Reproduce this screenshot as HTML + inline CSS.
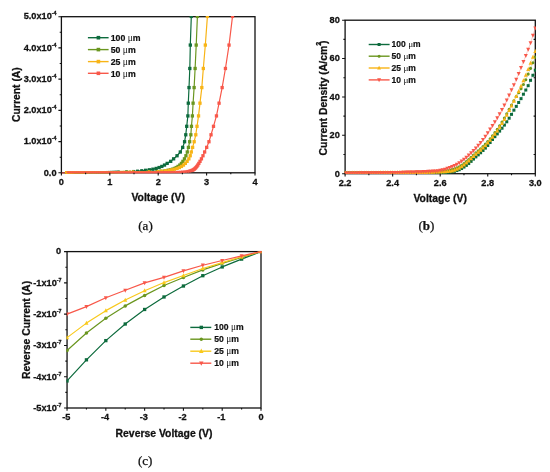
<!DOCTYPE html>
<html lang="en"><head><meta charset="utf-8"><title>Figure</title>
<style>html,body{margin:0;padding:0;background:#fff}svg{display:block}</style></head>
<body>
<svg width="550" height="472" viewBox="0 0 550 472">
<rect width="550" height="472" fill="#fff"/>
<defs><clipPath id="ca"><rect x="60.75" y="16.05" width="194.9" height="157.45"/></clipPath><clipPath id="cb"><rect x="344.45" y="19.55" width="191.5" height="154.5"/></clipPath><clipPath id="cc"><rect x="66.4" y="250.95" width="195.25" height="157.7"/></clipPath></defs>
<rect x="61.4" y="16.7" width="193.6" height="156.1" fill="none" stroke="#111" stroke-width="1.3"/>
<path d="M61.4 173 L66.5 172.8" stroke="#f8584a" stroke-width="1"/>
<g clip-path="url(#ca)"><path d="M191.3 16.4 L190.31 45.07 L189.81 68.48 L189.01 87.58 L188.29 103.18 L187.86 115.91 L186.72 126.31 L185.76 134.79 L184.58 141.72 L182.69 147.37 L180.31 151.99 L177.04 155.75 L173.62 158.83 L170.69 161.34 L167.18 163.39 L164.51 165.06 L161.83 166.43 L159.09 167.54 L156.17 168.45 L152.91 169.2 L149.36 169.8 L145.66 170.3 L141.76 170.7 L137.52 171.03 L133.49 171.3 L126.49 171.52 L118.52 171.7 L116.08 171.85 L113.73 171.97 L111.44 172.07 L109.23 172.15 L107.1 172.21 L105.03 172.25 L103.04 172.25 L101.11 172.25 L99.25 172.25 L97.46 172.25 L95.73 172.25 L94.07 172.25 L92.47 172.25 L90.93 172.25 L89.45 172.25 L88.03 172.25 L86.67 172.25 L85.37 172.25 L84.12 172.25 L82.93 172.25 L81.79 172.25 L80.71 172.25 L79.67 172.25 L78.69 172.25 L77.75 172.25 L76.86 172.25 L76.02 172.25 L75.22 172.25 L74.47 172.25 L73.76 172.25 L73.1 172.25 L72.47 172.25 L71.88 172.25 L71.34 172.25 L70.82 172.25 L70.35 172.25 L69.91 172.25 L69.5 172.25 L69.13 172.25 L68.79 172.25 L68.47 172.25 L68.19 172.25 L67.93 172.25 L67.7 172.25 L67.5 172.25 L67.32 172.25 L67.16 172.25 L67.03 172.25 L66.92 172.25 L66.82 172.25 L66.75 172.25 L66.69 172.25 L66.64 172.25 L66.62 172.25 L66.6 172.25" fill="none" stroke="#0d6b3d" stroke-width="1.2" stroke-linejoin="round"/><rect x="189.65" y="14.75" width="3.3" height="3.3" fill="#0d6b3d"/><rect x="188.66" y="43.42" width="3.3" height="3.3" fill="#0d6b3d"/><rect x="188.16" y="66.83" width="3.3" height="3.3" fill="#0d6b3d"/><rect x="187.36" y="85.93" width="3.3" height="3.3" fill="#0d6b3d"/><rect x="186.64" y="101.53" width="3.3" height="3.3" fill="#0d6b3d"/><rect x="186.21" y="114.26" width="3.3" height="3.3" fill="#0d6b3d"/><rect x="185.07" y="124.66" width="3.3" height="3.3" fill="#0d6b3d"/><rect x="184.11" y="133.14" width="3.3" height="3.3" fill="#0d6b3d"/><rect x="182.93" y="140.07" width="3.3" height="3.3" fill="#0d6b3d"/><rect x="181.04" y="145.72" width="3.3" height="3.3" fill="#0d6b3d"/><rect x="178.66" y="150.34" width="3.3" height="3.3" fill="#0d6b3d"/><rect x="175.39" y="154.1" width="3.3" height="3.3" fill="#0d6b3d"/><rect x="171.97" y="157.18" width="3.3" height="3.3" fill="#0d6b3d"/><rect x="169.04" y="159.69" width="3.3" height="3.3" fill="#0d6b3d"/><rect x="165.53" y="161.74" width="3.3" height="3.3" fill="#0d6b3d"/><rect x="162.86" y="163.41" width="3.3" height="3.3" fill="#0d6b3d"/><rect x="160.18" y="164.78" width="3.3" height="3.3" fill="#0d6b3d"/><rect x="157.44" y="165.89" width="3.3" height="3.3" fill="#0d6b3d"/><rect x="154.52" y="166.8" width="3.3" height="3.3" fill="#0d6b3d"/><rect x="151.26" y="167.55" width="3.3" height="3.3" fill="#0d6b3d"/><rect x="147.71" y="168.15" width="3.3" height="3.3" fill="#0d6b3d"/><rect x="144.01" y="168.65" width="3.3" height="3.3" fill="#0d6b3d"/><rect x="140.19" y="169.13" width="3.15" height="3.15" fill="#0d6b3d"/><rect x="136.06" y="169.58" width="2.91" height="2.91" fill="#0d6b3d"/><rect x="132.13" y="169.94" width="2.72" height="2.72" fill="#0d6b3d"/><rect x="125.21" y="170.24" width="2.56" height="2.56" fill="#0d6b3d"/><rect x="117.27" y="170.45" width="2.5" height="2.5" fill="#0d6b3d"/><rect x="114.83" y="170.6" width="2.5" height="2.5" fill="#0d6b3d"/><rect x="112.48" y="170.72" width="2.5" height="2.5" fill="#0d6b3d"/><rect x="110.19" y="170.82" width="2.5" height="2.5" fill="#0d6b3d"/><rect x="107.98" y="170.9" width="2.5" height="2.5" fill="#0d6b3d"/><rect x="105.85" y="170.96" width="2.5" height="2.5" fill="#0d6b3d"/><rect x="103.78" y="171" width="2.5" height="2.5" fill="#0d6b3d"/><rect x="101.79" y="171" width="2.5" height="2.5" fill="#0d6b3d"/><rect x="99.86" y="171" width="2.5" height="2.5" fill="#0d6b3d"/><rect x="98" y="171" width="2.5" height="2.5" fill="#0d6b3d"/><rect x="96.21" y="171" width="2.5" height="2.5" fill="#0d6b3d"/><rect x="94.48" y="171" width="2.5" height="2.5" fill="#0d6b3d"/><rect x="92.82" y="171" width="2.5" height="2.5" fill="#0d6b3d"/><rect x="91.22" y="171" width="2.5" height="2.5" fill="#0d6b3d"/><rect x="89.68" y="171" width="2.5" height="2.5" fill="#0d6b3d"/><rect x="88.2" y="171" width="2.5" height="2.5" fill="#0d6b3d"/><rect x="86.78" y="171" width="2.5" height="2.5" fill="#0d6b3d"/><rect x="85.42" y="171" width="2.5" height="2.5" fill="#0d6b3d"/><rect x="84.12" y="171" width="2.5" height="2.5" fill="#0d6b3d"/><rect x="82.87" y="171" width="2.5" height="2.5" fill="#0d6b3d"/><rect x="81.68" y="171" width="2.5" height="2.5" fill="#0d6b3d"/><rect x="80.54" y="171" width="2.5" height="2.5" fill="#0d6b3d"/><rect x="79.46" y="171" width="2.5" height="2.5" fill="#0d6b3d"/><rect x="78.42" y="171" width="2.5" height="2.5" fill="#0d6b3d"/><rect x="77.44" y="171" width="2.5" height="2.5" fill="#0d6b3d"/><rect x="76.5" y="171" width="2.5" height="2.5" fill="#0d6b3d"/><rect x="75.61" y="171" width="2.5" height="2.5" fill="#0d6b3d"/><rect x="74.77" y="171" width="2.5" height="2.5" fill="#0d6b3d"/><rect x="73.97" y="171" width="2.5" height="2.5" fill="#0d6b3d"/><rect x="73.22" y="171" width="2.5" height="2.5" fill="#0d6b3d"/><rect x="72.51" y="171" width="2.5" height="2.5" fill="#0d6b3d"/><rect x="71.85" y="171" width="2.5" height="2.5" fill="#0d6b3d"/><rect x="71.22" y="171" width="2.5" height="2.5" fill="#0d6b3d"/><rect x="70.63" y="171" width="2.5" height="2.5" fill="#0d6b3d"/><rect x="70.09" y="171" width="2.5" height="2.5" fill="#0d6b3d"/><rect x="69.57" y="171" width="2.5" height="2.5" fill="#0d6b3d"/><rect x="69.1" y="171" width="2.5" height="2.5" fill="#0d6b3d"/><rect x="68.66" y="171" width="2.5" height="2.5" fill="#0d6b3d"/><rect x="68.25" y="171" width="2.5" height="2.5" fill="#0d6b3d"/><rect x="67.88" y="171" width="2.5" height="2.5" fill="#0d6b3d"/><rect x="67.54" y="171" width="2.5" height="2.5" fill="#0d6b3d"/><rect x="67.22" y="171" width="2.5" height="2.5" fill="#0d6b3d"/><rect x="66.94" y="171" width="2.5" height="2.5" fill="#0d6b3d"/><rect x="66.68" y="171" width="2.5" height="2.5" fill="#0d6b3d"/><rect x="66.45" y="171" width="2.5" height="2.5" fill="#0d6b3d"/><rect x="66.25" y="171" width="2.5" height="2.5" fill="#0d6b3d"/><rect x="66.07" y="171" width="2.5" height="2.5" fill="#0d6b3d"/><rect x="65.91" y="171" width="2.5" height="2.5" fill="#0d6b3d"/><rect x="65.78" y="171" width="2.5" height="2.5" fill="#0d6b3d"/><rect x="65.67" y="171" width="2.5" height="2.5" fill="#0d6b3d"/><rect x="65.57" y="171" width="2.5" height="2.5" fill="#0d6b3d"/><rect x="65.5" y="171" width="2.5" height="2.5" fill="#0d6b3d"/><rect x="65.44" y="171" width="2.5" height="2.5" fill="#0d6b3d"/><rect x="65.39" y="171" width="2.5" height="2.5" fill="#0d6b3d"/><rect x="65.37" y="171" width="2.5" height="2.5" fill="#0d6b3d"/><rect x="65.35" y="171" width="2.5" height="2.5" fill="#0d6b3d"/></g>
<g clip-path="url(#ca)"><path d="M197.4 16.4 L196.21 45.07 L195.11 68.48 L194.11 87.58 L193.09 103.18 L192.38 115.91 L191.45 126.31 L190.84 134.79 L189.68 141.72 L188.44 147.37 L187.29 151.99 L185.94 155.75 L184.46 158.83 L182.91 161.34 L181.4 163.39 L179.82 165.06 L178.05 166.43 L176.23 167.54 L174.39 168.45 L172.43 169.2 L170.4 169.8 L168 170.3 L164.92 170.7 L161.02 171.03 L156.68 171.3 L147.45 171.52 L133.03 171.7 L129.81 171.85 L126.69 171.97 L123.68 172.07 L120.77 172.15 L117.95 172.21 L115.24 172.26 L112.62 172.31 L110.09 172.34 L107.66 172.35 L105.32 172.35 L103.07 172.41 L100.91 172.43 L98.84 172.35 L96.84 172.35 L94.93 172.35 L93.11 172.35 L91.36 172.47 L89.69 172.48 L88.09 172.35 L86.57 172.35 L85.12 172.35 L83.74 172.35 L82.43 172.35 L81.19 172.35 L80.01 172.5 L78.9 172.5 L77.85 172.5 L76.86 172.35 L75.92 172.35 L75.05 172.35 L74.23 172.35 L73.46 172.35 L72.74 172.35 L72.08 172.35 L71.46 172.35 L70.89 172.35 L70.37 172.35 L69.88 172.35 L69.44 172.5 L69.04 172.5 L68.68 172.5 L68.35 172.5 L68.06 172.5 L67.8 172.5 L67.57 172.5 L67.37 172.5 L67.19 172.5 L67.05 172.5 L66.93 172.5 L66.83 172.5 L66.75 172.5 L66.69 172.5 L66.64 172.5 L66.62 172.5 L66.6 172.5" fill="none" stroke="#6a961f" stroke-width="1.2" stroke-linejoin="round"/><rect x="195.75" y="14.75" width="3.3" height="3.3" fill="#6a961f"/><rect x="194.56" y="43.42" width="3.3" height="3.3" fill="#6a961f"/><rect x="193.46" y="66.83" width="3.3" height="3.3" fill="#6a961f"/><rect x="192.46" y="85.93" width="3.3" height="3.3" fill="#6a961f"/><rect x="191.44" y="101.53" width="3.3" height="3.3" fill="#6a961f"/><rect x="190.73" y="114.26" width="3.3" height="3.3" fill="#6a961f"/><rect x="189.8" y="124.66" width="3.3" height="3.3" fill="#6a961f"/><rect x="189.19" y="133.14" width="3.3" height="3.3" fill="#6a961f"/><rect x="188.03" y="140.07" width="3.3" height="3.3" fill="#6a961f"/><rect x="186.79" y="145.72" width="3.3" height="3.3" fill="#6a961f"/><rect x="185.64" y="150.34" width="3.3" height="3.3" fill="#6a961f"/><rect x="184.29" y="154.1" width="3.3" height="3.3" fill="#6a961f"/><rect x="182.81" y="157.18" width="3.3" height="3.3" fill="#6a961f"/><rect x="181.26" y="159.69" width="3.3" height="3.3" fill="#6a961f"/><rect x="179.75" y="161.74" width="3.3" height="3.3" fill="#6a961f"/><rect x="178.17" y="163.41" width="3.3" height="3.3" fill="#6a961f"/><rect x="176.4" y="164.78" width="3.3" height="3.3" fill="#6a961f"/><rect x="174.58" y="165.89" width="3.3" height="3.3" fill="#6a961f"/><rect x="172.74" y="166.8" width="3.3" height="3.3" fill="#6a961f"/><rect x="170.78" y="167.55" width="3.3" height="3.3" fill="#6a961f"/><rect x="168.75" y="168.15" width="3.3" height="3.3" fill="#6a961f"/><rect x="166.35" y="168.65" width="3.3" height="3.3" fill="#6a961f"/><rect x="163.34" y="169.13" width="3.15" height="3.15" fill="#6a961f"/><rect x="159.56" y="169.58" width="2.91" height="2.91" fill="#6a961f"/><rect x="155.32" y="169.94" width="2.72" height="2.72" fill="#6a961f"/><rect x="146.17" y="170.24" width="2.56" height="2.56" fill="#6a961f"/><rect x="131.78" y="170.45" width="2.5" height="2.5" fill="#6a961f"/><rect x="128.56" y="170.6" width="2.5" height="2.5" fill="#6a961f"/><rect x="125.44" y="170.72" width="2.5" height="2.5" fill="#6a961f"/><rect x="122.43" y="170.82" width="2.5" height="2.5" fill="#6a961f"/><rect x="119.52" y="170.9" width="2.5" height="2.5" fill="#6a961f"/><rect x="116.7" y="170.96" width="2.5" height="2.5" fill="#6a961f"/><rect x="113.99" y="171.01" width="2.5" height="2.5" fill="#6a961f"/><rect x="111.37" y="171.06" width="2.5" height="2.5" fill="#6a961f"/><rect x="108.84" y="171.09" width="2.5" height="2.5" fill="#6a961f"/><rect x="106.41" y="171.1" width="2.5" height="2.5" fill="#6a961f"/><rect x="104.07" y="171.1" width="2.5" height="2.5" fill="#6a961f"/><rect x="101.82" y="171.16" width="2.5" height="2.5" fill="#6a961f"/><rect x="99.66" y="171.18" width="2.5" height="2.5" fill="#6a961f"/><rect x="97.59" y="171.1" width="2.5" height="2.5" fill="#6a961f"/><rect x="95.59" y="171.1" width="2.5" height="2.5" fill="#6a961f"/><rect x="93.68" y="171.1" width="2.5" height="2.5" fill="#6a961f"/><rect x="91.86" y="171.1" width="2.5" height="2.5" fill="#6a961f"/><rect x="90.11" y="171.22" width="2.5" height="2.5" fill="#6a961f"/><rect x="88.44" y="171.23" width="2.5" height="2.5" fill="#6a961f"/><rect x="86.84" y="171.1" width="2.5" height="2.5" fill="#6a961f"/><rect x="85.32" y="171.1" width="2.5" height="2.5" fill="#6a961f"/><rect x="83.87" y="171.1" width="2.5" height="2.5" fill="#6a961f"/><rect x="82.49" y="171.1" width="2.5" height="2.5" fill="#6a961f"/><rect x="81.18" y="171.1" width="2.5" height="2.5" fill="#6a961f"/><rect x="79.94" y="171.1" width="2.5" height="2.5" fill="#6a961f"/><rect x="78.76" y="171.25" width="2.5" height="2.5" fill="#6a961f"/><rect x="77.65" y="171.25" width="2.5" height="2.5" fill="#6a961f"/><rect x="76.6" y="171.25" width="2.5" height="2.5" fill="#6a961f"/><rect x="75.61" y="171.1" width="2.5" height="2.5" fill="#6a961f"/><rect x="74.67" y="171.1" width="2.5" height="2.5" fill="#6a961f"/><rect x="73.8" y="171.1" width="2.5" height="2.5" fill="#6a961f"/><rect x="72.98" y="171.1" width="2.5" height="2.5" fill="#6a961f"/><rect x="72.21" y="171.1" width="2.5" height="2.5" fill="#6a961f"/><rect x="71.49" y="171.1" width="2.5" height="2.5" fill="#6a961f"/><rect x="70.83" y="171.1" width="2.5" height="2.5" fill="#6a961f"/><rect x="70.21" y="171.1" width="2.5" height="2.5" fill="#6a961f"/><rect x="69.64" y="171.1" width="2.5" height="2.5" fill="#6a961f"/><rect x="69.12" y="171.1" width="2.5" height="2.5" fill="#6a961f"/><rect x="68.63" y="171.1" width="2.5" height="2.5" fill="#6a961f"/><rect x="68.19" y="171.25" width="2.5" height="2.5" fill="#6a961f"/><rect x="67.79" y="171.25" width="2.5" height="2.5" fill="#6a961f"/><rect x="67.43" y="171.25" width="2.5" height="2.5" fill="#6a961f"/><rect x="67.1" y="171.25" width="2.5" height="2.5" fill="#6a961f"/><rect x="66.81" y="171.25" width="2.5" height="2.5" fill="#6a961f"/><rect x="66.55" y="171.25" width="2.5" height="2.5" fill="#6a961f"/><rect x="66.32" y="171.25" width="2.5" height="2.5" fill="#6a961f"/><rect x="66.12" y="171.25" width="2.5" height="2.5" fill="#6a961f"/><rect x="65.94" y="171.25" width="2.5" height="2.5" fill="#6a961f"/><rect x="65.8" y="171.25" width="2.5" height="2.5" fill="#6a961f"/><rect x="65.68" y="171.25" width="2.5" height="2.5" fill="#6a961f"/><rect x="65.58" y="171.25" width="2.5" height="2.5" fill="#6a961f"/><rect x="65.5" y="171.25" width="2.5" height="2.5" fill="#6a961f"/><rect x="65.44" y="171.25" width="2.5" height="2.5" fill="#6a961f"/><rect x="65.39" y="171.25" width="2.5" height="2.5" fill="#6a961f"/><rect x="65.37" y="171.25" width="2.5" height="2.5" fill="#6a961f"/><rect x="65.35" y="171.25" width="2.5" height="2.5" fill="#6a961f"/></g>
<g clip-path="url(#ca)"><path d="M207.41 16.4 L205.32 45.07 L203.32 68.48 L201.82 87.58 L199.98 103.18 L198.54 115.91 L197 126.31 L195.79 134.79 L194.17 141.72 L192.62 147.37 L191.29 151.99 L190.22 155.75 L188.85 158.83 L187.09 161.34 L185.34 163.39 L183.46 165.06 L181.45 166.43 L179.36 167.54 L177.08 168.45 L174.51 169.2 L171.88 169.8 L169 170.3 L165.55 170.7 L161.55 171.03 L158.01 171.3 L149.28 171.52 L133.02 171.7 L129.77 171.85 L126.62 171.97 L123.58 172.07 L120.65 172.15 L117.81 172.21 L115.08 172.26 L112.45 172.31 L109.91 172.34 L107.46 172.37 L105.11 172.4 L102.85 172.35 L100.68 172.35 L98.6 172.35 L96.6 172.35 L94.69 172.46 L92.86 172.47 L91.1 172.35 L89.43 172.35 L87.84 172.35 L86.32 172.35 L84.87 172.49 L83.49 172.49 L82.19 172.49 L80.95 172.49 L79.78 172.35 L78.67 172.35 L77.63 172.35 L76.65 172.35 L75.72 172.35 L74.85 172.35 L74.04 172.35 L73.29 172.5 L72.58 172.5 L71.92 172.5 L71.32 172.5 L70.76 172.5 L70.24 172.5 L69.77 172.5 L69.34 172.5 L68.94 172.35 L68.59 172.35 L68.27 172.35 L67.99 172.35 L67.74 172.35 L67.52 172.35 L67.32 172.35 L67.16 172.35 L67.02 172.35 L66.9 172.35 L66.81 172.35 L66.74 172.35 L66.68 172.35 L66.64 172.35 L66.61 172.35 L66.6 172.35" fill="none" stroke="#f8b416" stroke-width="1.2" stroke-linejoin="round"/><rect x="205.76" y="14.75" width="3.3" height="3.3" fill="#f8b416"/><rect x="203.67" y="43.42" width="3.3" height="3.3" fill="#f8b416"/><rect x="201.67" y="66.83" width="3.3" height="3.3" fill="#f8b416"/><rect x="200.17" y="85.93" width="3.3" height="3.3" fill="#f8b416"/><rect x="198.33" y="101.53" width="3.3" height="3.3" fill="#f8b416"/><rect x="196.89" y="114.26" width="3.3" height="3.3" fill="#f8b416"/><rect x="195.35" y="124.66" width="3.3" height="3.3" fill="#f8b416"/><rect x="194.14" y="133.14" width="3.3" height="3.3" fill="#f8b416"/><rect x="192.52" y="140.07" width="3.3" height="3.3" fill="#f8b416"/><rect x="190.97" y="145.72" width="3.3" height="3.3" fill="#f8b416"/><rect x="189.64" y="150.34" width="3.3" height="3.3" fill="#f8b416"/><rect x="188.57" y="154.1" width="3.3" height="3.3" fill="#f8b416"/><rect x="187.2" y="157.18" width="3.3" height="3.3" fill="#f8b416"/><rect x="185.44" y="159.69" width="3.3" height="3.3" fill="#f8b416"/><rect x="183.69" y="161.74" width="3.3" height="3.3" fill="#f8b416"/><rect x="181.81" y="163.41" width="3.3" height="3.3" fill="#f8b416"/><rect x="179.8" y="164.78" width="3.3" height="3.3" fill="#f8b416"/><rect x="177.71" y="165.89" width="3.3" height="3.3" fill="#f8b416"/><rect x="175.43" y="166.8" width="3.3" height="3.3" fill="#f8b416"/><rect x="172.86" y="167.55" width="3.3" height="3.3" fill="#f8b416"/><rect x="170.23" y="168.15" width="3.3" height="3.3" fill="#f8b416"/><rect x="167.35" y="168.65" width="3.3" height="3.3" fill="#f8b416"/><rect x="163.98" y="169.13" width="3.15" height="3.15" fill="#f8b416"/><rect x="160.09" y="169.58" width="2.91" height="2.91" fill="#f8b416"/><rect x="156.65" y="169.94" width="2.72" height="2.72" fill="#f8b416"/><rect x="148" y="170.24" width="2.56" height="2.56" fill="#f8b416"/><rect x="131.77" y="170.45" width="2.5" height="2.5" fill="#f8b416"/><rect x="128.52" y="170.6" width="2.5" height="2.5" fill="#f8b416"/><rect x="125.37" y="170.72" width="2.5" height="2.5" fill="#f8b416"/><rect x="122.33" y="170.82" width="2.5" height="2.5" fill="#f8b416"/><rect x="119.4" y="170.9" width="2.5" height="2.5" fill="#f8b416"/><rect x="116.56" y="170.96" width="2.5" height="2.5" fill="#f8b416"/><rect x="113.83" y="171.01" width="2.5" height="2.5" fill="#f8b416"/><rect x="111.2" y="171.06" width="2.5" height="2.5" fill="#f8b416"/><rect x="108.66" y="171.09" width="2.5" height="2.5" fill="#f8b416"/><rect x="106.21" y="171.12" width="2.5" height="2.5" fill="#f8b416"/><rect x="103.86" y="171.15" width="2.5" height="2.5" fill="#f8b416"/><rect x="101.6" y="171.1" width="2.5" height="2.5" fill="#f8b416"/><rect x="99.43" y="171.1" width="2.5" height="2.5" fill="#f8b416"/><rect x="97.35" y="171.1" width="2.5" height="2.5" fill="#f8b416"/><rect x="95.35" y="171.1" width="2.5" height="2.5" fill="#f8b416"/><rect x="93.44" y="171.21" width="2.5" height="2.5" fill="#f8b416"/><rect x="91.61" y="171.22" width="2.5" height="2.5" fill="#f8b416"/><rect x="89.85" y="171.1" width="2.5" height="2.5" fill="#f8b416"/><rect x="88.18" y="171.1" width="2.5" height="2.5" fill="#f8b416"/><rect x="86.59" y="171.1" width="2.5" height="2.5" fill="#f8b416"/><rect x="85.07" y="171.1" width="2.5" height="2.5" fill="#f8b416"/><rect x="83.62" y="171.24" width="2.5" height="2.5" fill="#f8b416"/><rect x="82.24" y="171.24" width="2.5" height="2.5" fill="#f8b416"/><rect x="80.94" y="171.24" width="2.5" height="2.5" fill="#f8b416"/><rect x="79.7" y="171.24" width="2.5" height="2.5" fill="#f8b416"/><rect x="78.53" y="171.1" width="2.5" height="2.5" fill="#f8b416"/><rect x="77.42" y="171.1" width="2.5" height="2.5" fill="#f8b416"/><rect x="76.38" y="171.1" width="2.5" height="2.5" fill="#f8b416"/><rect x="75.4" y="171.1" width="2.5" height="2.5" fill="#f8b416"/><rect x="74.47" y="171.1" width="2.5" height="2.5" fill="#f8b416"/><rect x="73.6" y="171.1" width="2.5" height="2.5" fill="#f8b416"/><rect x="72.79" y="171.1" width="2.5" height="2.5" fill="#f8b416"/><rect x="72.04" y="171.25" width="2.5" height="2.5" fill="#f8b416"/><rect x="71.33" y="171.25" width="2.5" height="2.5" fill="#f8b416"/><rect x="70.67" y="171.25" width="2.5" height="2.5" fill="#f8b416"/><rect x="70.07" y="171.25" width="2.5" height="2.5" fill="#f8b416"/><rect x="69.51" y="171.25" width="2.5" height="2.5" fill="#f8b416"/><rect x="68.99" y="171.25" width="2.5" height="2.5" fill="#f8b416"/><rect x="68.52" y="171.25" width="2.5" height="2.5" fill="#f8b416"/><rect x="68.09" y="171.25" width="2.5" height="2.5" fill="#f8b416"/><rect x="67.69" y="171.1" width="2.5" height="2.5" fill="#f8b416"/><rect x="67.34" y="171.1" width="2.5" height="2.5" fill="#f8b416"/><rect x="67.02" y="171.1" width="2.5" height="2.5" fill="#f8b416"/><rect x="66.74" y="171.1" width="2.5" height="2.5" fill="#f8b416"/><rect x="66.49" y="171.1" width="2.5" height="2.5" fill="#f8b416"/><rect x="66.27" y="171.1" width="2.5" height="2.5" fill="#f8b416"/><rect x="66.07" y="171.1" width="2.5" height="2.5" fill="#f8b416"/><rect x="65.91" y="171.1" width="2.5" height="2.5" fill="#f8b416"/><rect x="65.77" y="171.1" width="2.5" height="2.5" fill="#f8b416"/><rect x="65.65" y="171.1" width="2.5" height="2.5" fill="#f8b416"/><rect x="65.56" y="171.1" width="2.5" height="2.5" fill="#f8b416"/><rect x="65.49" y="171.1" width="2.5" height="2.5" fill="#f8b416"/><rect x="65.43" y="171.1" width="2.5" height="2.5" fill="#f8b416"/><rect x="65.39" y="171.1" width="2.5" height="2.5" fill="#f8b416"/><rect x="65.36" y="171.1" width="2.5" height="2.5" fill="#f8b416"/><rect x="65.35" y="171.1" width="2.5" height="2.5" fill="#f8b416"/></g>
<g clip-path="url(#ca)"><path d="M232.51 16.4 L229.03 45.07 L225.44 68.48 L222.14 87.58 L219.06 103.18 L216.46 115.91 L213.5 126.31 L211.03 134.79 L208.96 141.72 L206.69 147.37 L204.64 151.99 L202.98 155.75 L201.44 158.83 L200.02 161.34 L198.84 163.39 L197.79 165.06 L196.84 166.43 L195.93 167.54 L195.04 168.45 L194.2 169.2 L193.29 169.8 L192.2 170.3 L190.86 170.7 L189.36 171.03 L187.69 171.3 L185.83 171.52 L183.98 171.7 L182.26 171.85 L180.57 171.97 L178.78 172.07 L176.73 172.15 L174.37 172.21 L171.92 172.26 L169.59 172.31 L167.33 172.34 L165.08 172.37 L162.83 172.4 L160.58 172.41 L158.34 172.43 L156.1 172.44 L153.87 172.45 L151.64 172.46 L149.41 172.47 L147.19 172.47 L144.97 172.48 L142.76 172.48 L140.55 172.49 L138.35 172.49 L136.15 172.49 L133.96 172.49 L131.77 172.49 L129.59 172.5 L127.42 172.5 L125.25 172.5 L123.09 172.5 L120.93 172.5 L118.78 172.5 L116.64 172.5 L114.51 172.5 L112.38 172.5 L110.26 172.5 L108.15 172.5 L106.05 172.5 L103.95 172.5 L101.86 172.5 L99.78 172.5 L97.71 172.5 L95.65 172.5 L93.59 172.5 L91.55 172.5 L89.51 172.5 L87.49 172.5 L85.47 172.5 L83.46 172.5 L81.47 172.5 L79.48 172.5 L77.5 172.5 L75.54 172.5 L73.58 172.5 L71.64 172.5 L69.7 172.5 L67.78 172.5" fill="none" stroke="#f8584a" stroke-width="1.2" stroke-linejoin="round"/><rect x="230.86" y="14.75" width="3.3" height="3.3" fill="#f8584a"/><rect x="227.38" y="43.42" width="3.3" height="3.3" fill="#f8584a"/><rect x="223.79" y="66.83" width="3.3" height="3.3" fill="#f8584a"/><rect x="220.49" y="85.93" width="3.3" height="3.3" fill="#f8584a"/><rect x="217.41" y="101.53" width="3.3" height="3.3" fill="#f8584a"/><rect x="214.81" y="114.26" width="3.3" height="3.3" fill="#f8584a"/><rect x="211.85" y="124.66" width="3.3" height="3.3" fill="#f8584a"/><rect x="209.38" y="133.14" width="3.3" height="3.3" fill="#f8584a"/><rect x="207.31" y="140.07" width="3.3" height="3.3" fill="#f8584a"/><rect x="205.04" y="145.72" width="3.3" height="3.3" fill="#f8584a"/><rect x="202.99" y="150.34" width="3.3" height="3.3" fill="#f8584a"/><rect x="201.33" y="154.1" width="3.3" height="3.3" fill="#f8584a"/><rect x="199.79" y="157.18" width="3.3" height="3.3" fill="#f8584a"/><rect x="198.37" y="159.69" width="3.3" height="3.3" fill="#f8584a"/><rect x="197.19" y="161.74" width="3.3" height="3.3" fill="#f8584a"/><rect x="196.14" y="163.41" width="3.3" height="3.3" fill="#f8584a"/><rect x="195.19" y="164.78" width="3.3" height="3.3" fill="#f8584a"/><rect x="194.28" y="165.89" width="3.3" height="3.3" fill="#f8584a"/><rect x="193.39" y="166.8" width="3.3" height="3.3" fill="#f8584a"/><rect x="192.55" y="167.55" width="3.3" height="3.3" fill="#f8584a"/><rect x="191.64" y="168.15" width="3.3" height="3.3" fill="#f8584a"/><rect x="190.55" y="168.65" width="3.3" height="3.3" fill="#f8584a"/><rect x="189.29" y="169.13" width="3.15" height="3.15" fill="#f8584a"/><rect x="187.9" y="169.58" width="2.91" height="2.91" fill="#f8584a"/><rect x="186.33" y="169.94" width="2.72" height="2.72" fill="#f8584a"/><rect x="184.55" y="170.24" width="2.56" height="2.56" fill="#f8584a"/><rect x="182.73" y="170.45" width="2.5" height="2.5" fill="#f8584a"/><rect x="181.01" y="170.6" width="2.5" height="2.5" fill="#f8584a"/><rect x="179.32" y="170.72" width="2.5" height="2.5" fill="#f8584a"/><rect x="177.53" y="170.82" width="2.5" height="2.5" fill="#f8584a"/><rect x="175.48" y="170.9" width="2.5" height="2.5" fill="#f8584a"/><rect x="173.12" y="170.96" width="2.5" height="2.5" fill="#f8584a"/><rect x="170.67" y="171.01" width="2.5" height="2.5" fill="#f8584a"/><rect x="168.34" y="171.06" width="2.5" height="2.5" fill="#f8584a"/><rect x="166.08" y="171.09" width="2.5" height="2.5" fill="#f8584a"/><rect x="163.83" y="171.12" width="2.5" height="2.5" fill="#f8584a"/><rect x="161.58" y="171.15" width="2.5" height="2.5" fill="#f8584a"/><rect x="159.33" y="171.16" width="2.5" height="2.5" fill="#f8584a"/><rect x="157.09" y="171.18" width="2.5" height="2.5" fill="#f8584a"/><rect x="154.85" y="171.19" width="2.5" height="2.5" fill="#f8584a"/><rect x="152.62" y="171.2" width="2.5" height="2.5" fill="#f8584a"/><rect x="150.39" y="171.21" width="2.5" height="2.5" fill="#f8584a"/><rect x="148.16" y="171.22" width="2.5" height="2.5" fill="#f8584a"/><rect x="145.94" y="171.22" width="2.5" height="2.5" fill="#f8584a"/><rect x="143.72" y="171.23" width="2.5" height="2.5" fill="#f8584a"/><rect x="141.51" y="171.23" width="2.5" height="2.5" fill="#f8584a"/><rect x="139.3" y="171.24" width="2.5" height="2.5" fill="#f8584a"/><rect x="137.1" y="171.24" width="2.5" height="2.5" fill="#f8584a"/><rect x="134.9" y="171.24" width="2.5" height="2.5" fill="#f8584a"/><rect x="132.71" y="171.24" width="2.5" height="2.5" fill="#f8584a"/><rect x="130.52" y="171.24" width="2.5" height="2.5" fill="#f8584a"/><rect x="128.34" y="171.25" width="2.5" height="2.5" fill="#f8584a"/><rect x="126.17" y="171.25" width="2.5" height="2.5" fill="#f8584a"/><rect x="124" y="171.25" width="2.5" height="2.5" fill="#f8584a"/><rect x="121.84" y="171.25" width="2.5" height="2.5" fill="#f8584a"/><rect x="119.68" y="171.25" width="2.5" height="2.5" fill="#f8584a"/><rect x="117.53" y="171.25" width="2.5" height="2.5" fill="#f8584a"/><rect x="115.39" y="171.25" width="2.5" height="2.5" fill="#f8584a"/><rect x="113.26" y="171.25" width="2.5" height="2.5" fill="#f8584a"/><rect x="111.13" y="171.25" width="2.5" height="2.5" fill="#f8584a"/><rect x="109.01" y="171.25" width="2.5" height="2.5" fill="#f8584a"/><rect x="106.9" y="171.25" width="2.5" height="2.5" fill="#f8584a"/><rect x="104.8" y="171.25" width="2.5" height="2.5" fill="#f8584a"/><rect x="102.7" y="171.25" width="2.5" height="2.5" fill="#f8584a"/><rect x="100.61" y="171.25" width="2.5" height="2.5" fill="#f8584a"/><rect x="98.53" y="171.25" width="2.5" height="2.5" fill="#f8584a"/><rect x="96.46" y="171.25" width="2.5" height="2.5" fill="#f8584a"/><rect x="94.4" y="171.25" width="2.5" height="2.5" fill="#f8584a"/><rect x="92.34" y="171.25" width="2.5" height="2.5" fill="#f8584a"/><rect x="90.3" y="171.25" width="2.5" height="2.5" fill="#f8584a"/><rect x="88.26" y="171.25" width="2.5" height="2.5" fill="#f8584a"/><rect x="86.24" y="171.25" width="2.5" height="2.5" fill="#f8584a"/><rect x="84.22" y="171.25" width="2.5" height="2.5" fill="#f8584a"/><rect x="82.21" y="171.25" width="2.5" height="2.5" fill="#f8584a"/><rect x="80.22" y="171.25" width="2.5" height="2.5" fill="#f8584a"/><rect x="78.23" y="171.25" width="2.5" height="2.5" fill="#f8584a"/><rect x="76.25" y="171.25" width="2.5" height="2.5" fill="#f8584a"/><rect x="74.29" y="171.25" width="2.5" height="2.5" fill="#f8584a"/><rect x="72.33" y="171.25" width="2.5" height="2.5" fill="#f8584a"/><rect x="70.39" y="171.25" width="2.5" height="2.5" fill="#f8584a"/><rect x="68.45" y="171.25" width="2.5" height="2.5" fill="#f8584a"/><rect x="66.53" y="171.25" width="2.5" height="2.5" fill="#f8584a"/></g>
<path d="M61.4 172.8v2.8M109.8 172.8v2.8M158.2 172.8v2.8M206.6 172.8v2.8M255 172.8v2.8" stroke="#111" stroke-width="1.1" fill="none"/>
<path d="M85.6 172.8v1.5M134 172.8v1.5M182.4 172.8v1.5M230.8 172.8v1.5" stroke="#111" stroke-width="1.1" fill="none"/>
<path d="M61.4 172.8h-3M61.4 141.58h-3M61.4 110.36h-3M61.4 79.14h-3M61.4 47.92h-3M61.4 16.7h-3" stroke="#111" stroke-width="1.1" fill="none"/>
<path d="M61.4 157.19h-1.7M61.4 125.97h-1.7M61.4 94.75h-1.7M61.4 63.53h-1.7M61.4 32.31h-1.7" stroke="#111" stroke-width="1.1" fill="none"/>
<text x="61.4" y="185.2" font-family="'Liberation Sans', Arial, sans-serif" font-size="9.2" font-weight="bold" text-anchor="middle" fill="#111" stroke="#111" stroke-width="0.28">0</text>
<text x="109.8" y="185.2" font-family="'Liberation Sans', Arial, sans-serif" font-size="9.2" font-weight="bold" text-anchor="middle" fill="#111" stroke="#111" stroke-width="0.28">1</text>
<text x="158.2" y="185.2" font-family="'Liberation Sans', Arial, sans-serif" font-size="9.2" font-weight="bold" text-anchor="middle" fill="#111" stroke="#111" stroke-width="0.28">2</text>
<text x="206.6" y="185.2" font-family="'Liberation Sans', Arial, sans-serif" font-size="9.2" font-weight="bold" text-anchor="middle" fill="#111" stroke="#111" stroke-width="0.28">3</text>
<text x="255" y="185.2" font-family="'Liberation Sans', Arial, sans-serif" font-size="9.2" font-weight="bold" text-anchor="middle" fill="#111" stroke="#111" stroke-width="0.28">4</text>
<text x="56.5" y="175.5" font-family="'Liberation Sans', Arial, sans-serif" font-size="9.2" font-weight="bold" text-anchor="end" fill="#111" stroke="#111" stroke-width="0.28">0.0</text>
<text x="56.5" y="144.28" font-family="'Liberation Sans', Arial, sans-serif" font-size="9.2" font-weight="bold" text-anchor="end" fill="#111" stroke="#111" stroke-width="0.28">1.0x10<tspan font-size="5.34" dy="-4.0">-4</tspan></text>
<text x="56.5" y="113.06" font-family="'Liberation Sans', Arial, sans-serif" font-size="9.2" font-weight="bold" text-anchor="end" fill="#111" stroke="#111" stroke-width="0.28">2.0x10<tspan font-size="5.34" dy="-4.0">-4</tspan></text>
<text x="56.5" y="81.84" font-family="'Liberation Sans', Arial, sans-serif" font-size="9.2" font-weight="bold" text-anchor="end" fill="#111" stroke="#111" stroke-width="0.28">3.0x10<tspan font-size="5.34" dy="-4.0">-4</tspan></text>
<text x="56.5" y="50.62" font-family="'Liberation Sans', Arial, sans-serif" font-size="9.2" font-weight="bold" text-anchor="end" fill="#111" stroke="#111" stroke-width="0.28">4.0x10<tspan font-size="5.34" dy="-4.0">-4</tspan></text>
<text x="56.5" y="19.4" font-family="'Liberation Sans', Arial, sans-serif" font-size="9.2" font-weight="bold" text-anchor="end" fill="#111" stroke="#111" stroke-width="0.28">5.0x10<tspan font-size="5.34" dy="-4.0">-4</tspan></text>
<text x="158.2" y="201.2" font-family="'Liberation Sans', Arial, sans-serif" font-size="10.4" font-weight="bold" text-anchor="middle" fill="#111" stroke="#111" stroke-width="0.28">Voltage (V)</text>
<text x="20.2" y="94.6" font-family="'Liberation Sans', Arial, sans-serif" font-size="10.4" font-weight="bold" text-anchor="middle" fill="#111" stroke="#111" stroke-width="0.28" transform="rotate(-90 20.2 94.6)">Current (A)</text>
<path d="M87.9 37.7 H108.6" stroke="#0d6b3d" stroke-width="1.4"/>
<rect x="96.6" y="35.9" width="3.6" height="3.6" fill="#0d6b3d"/>
<text x="110.7" y="41.05" font-family="'Liberation Sans', Arial, sans-serif" font-size="8.75" font-weight="bold" fill="#111" stroke="#111" stroke-width="0.2">100 <tspan font-family="'Liberation Serif', serif" font-weight="normal" font-size="9.45" stroke="none">μ</tspan>m</text>
<path d="M87.9 49.6 H108.6" stroke="#6a961f" stroke-width="1.4"/>
<rect x="96.6" y="47.8" width="3.6" height="3.6" fill="#6a961f"/>
<text x="110.7" y="52.95" font-family="'Liberation Sans', Arial, sans-serif" font-size="8.75" font-weight="bold" fill="#111" stroke="#111" stroke-width="0.2">50 <tspan font-family="'Liberation Serif', serif" font-weight="normal" font-size="9.45" stroke="none">μ</tspan>m</text>
<path d="M87.9 61.6 H108.6" stroke="#f8b416" stroke-width="1.4"/>
<rect x="96.6" y="59.8" width="3.6" height="3.6" fill="#f8b416"/>
<text x="110.7" y="64.95" font-family="'Liberation Sans', Arial, sans-serif" font-size="8.75" font-weight="bold" fill="#111" stroke="#111" stroke-width="0.2">25 <tspan font-family="'Liberation Serif', serif" font-weight="normal" font-size="9.45" stroke="none">μ</tspan>m</text>
<path d="M87.9 73.3 H108.6" stroke="#f8584a" stroke-width="1.4"/>
<rect x="96.6" y="71.5" width="3.6" height="3.6" fill="#f8584a"/>
<text x="110.7" y="76.65" font-family="'Liberation Sans', Arial, sans-serif" font-size="8.75" font-weight="bold" fill="#111" stroke="#111" stroke-width="0.2">10 <tspan font-family="'Liberation Serif', serif" font-weight="normal" font-size="9.45" stroke="none">μ</tspan>m</text>
<text x="145.5" y="230" font-family="'Liberation Serif', serif" font-size="13" text-anchor="middle" fill="#111" stroke="#111" stroke-width="0.25">(a)</text>
<rect x="345.1" y="20.2" width="190.2" height="153.5" fill="none" stroke="#111" stroke-width="1.3"/>
<g clip-path="url(#cb)"><path d="M345.1 173 L347.48 173 L349.86 173 L352.23 173 L354.61 173 L356.99 173 L359.37 173 L361.74 173 L364.12 173 L366.5 173 L368.88 173 L371.25 173 L373.63 173 L376.01 173 L378.38 173 L380.76 173 L383.14 173 L385.52 173 L387.89 173 L390.27 173 L392.65 173 L395.03 173 L397.41 172.99 L399.78 172.99 L402.16 172.98 L404.54 172.97 L406.92 172.96 L409.29 172.95 L411.67 172.94 L414.05 172.93 L416.43 172.92 L418.8 172.91 L421.18 172.9 L423.56 172.89 L425.94 172.88 L428.31 172.87 L430.69 172.86 L433.07 172.85 L435.44 172.84 L437.82 172.82 L440.2 172.8 L442.58 172.74 L444.95 172.6 L447.33 172.4 L449.71 172.15 L452.09 171.84 L454.46 171.31 L456.84 170.58 L459.22 169.72 L461.6 168.53 L463.97 167.05 L466.35 165.39 L468.73 163.55 L471.11 161.37 L473.48 159.08 L475.86 156.89 L478.24 154.85 L480.62 152.76 L483 150.49 L485.37 148.09 L487.75 145.48 L490.13 142.52 L492.5 139.48 L494.88 136.66 L497.26 133.9 L499.64 131.11 L502.01 128.23 L504.39 125.12 L506.77 121.79 L509.15 118.21 L511.52 114.36 L513.9 110.16 L516.28 106.37 L518.66 102.48 L521.03 98.64 L523.41 94.22 L525.79 90.04 L528.17 85.67 L530.54 80.33 L532.92 75.27 L535.3 70.2" fill="none" stroke="#0d6b3d" stroke-width="0.3" stroke-linejoin="round"/><rect x="343.6" y="171.5" width="3" height="3" fill="#0d6b3d"/><rect x="345.98" y="171.5" width="3" height="3" fill="#0d6b3d"/><rect x="348.36" y="171.5" width="3" height="3" fill="#0d6b3d"/><rect x="350.73" y="171.5" width="3" height="3" fill="#0d6b3d"/><rect x="353.11" y="171.5" width="3" height="3" fill="#0d6b3d"/><rect x="355.49" y="171.5" width="3" height="3" fill="#0d6b3d"/><rect x="357.87" y="171.5" width="3" height="3" fill="#0d6b3d"/><rect x="360.24" y="171.5" width="3" height="3" fill="#0d6b3d"/><rect x="362.62" y="171.5" width="3" height="3" fill="#0d6b3d"/><rect x="365" y="171.5" width="3" height="3" fill="#0d6b3d"/><rect x="367.38" y="171.5" width="3" height="3" fill="#0d6b3d"/><rect x="369.75" y="171.5" width="3" height="3" fill="#0d6b3d"/><rect x="372.13" y="171.5" width="3" height="3" fill="#0d6b3d"/><rect x="374.51" y="171.5" width="3" height="3" fill="#0d6b3d"/><rect x="376.88" y="171.5" width="3" height="3" fill="#0d6b3d"/><rect x="379.26" y="171.5" width="3" height="3" fill="#0d6b3d"/><rect x="381.64" y="171.5" width="3" height="3" fill="#0d6b3d"/><rect x="384.02" y="171.5" width="3" height="3" fill="#0d6b3d"/><rect x="386.39" y="171.5" width="3" height="3" fill="#0d6b3d"/><rect x="388.77" y="171.5" width="3" height="3" fill="#0d6b3d"/><rect x="391.15" y="171.5" width="3" height="3" fill="#0d6b3d"/><rect x="393.53" y="171.5" width="3" height="3" fill="#0d6b3d"/><rect x="395.91" y="171.49" width="3" height="3" fill="#0d6b3d"/><rect x="398.28" y="171.49" width="3" height="3" fill="#0d6b3d"/><rect x="400.66" y="171.48" width="3" height="3" fill="#0d6b3d"/><rect x="403.04" y="171.47" width="3" height="3" fill="#0d6b3d"/><rect x="405.42" y="171.46" width="3" height="3" fill="#0d6b3d"/><rect x="407.79" y="171.45" width="3" height="3" fill="#0d6b3d"/><rect x="410.17" y="171.44" width="3" height="3" fill="#0d6b3d"/><rect x="412.55" y="171.43" width="3" height="3" fill="#0d6b3d"/><rect x="414.93" y="171.42" width="3" height="3" fill="#0d6b3d"/><rect x="417.3" y="171.41" width="3" height="3" fill="#0d6b3d"/><rect x="419.68" y="171.4" width="3" height="3" fill="#0d6b3d"/><rect x="422.06" y="171.39" width="3" height="3" fill="#0d6b3d"/><rect x="424.44" y="171.38" width="3" height="3" fill="#0d6b3d"/><rect x="426.81" y="171.37" width="3" height="3" fill="#0d6b3d"/><rect x="429.19" y="171.36" width="3" height="3" fill="#0d6b3d"/><rect x="431.57" y="171.35" width="3" height="3" fill="#0d6b3d"/><rect x="433.94" y="171.34" width="3" height="3" fill="#0d6b3d"/><rect x="436.32" y="171.32" width="3" height="3" fill="#0d6b3d"/><rect x="438.7" y="171.3" width="3" height="3" fill="#0d6b3d"/><rect x="441.08" y="171.24" width="3" height="3" fill="#0d6b3d"/><rect x="443.45" y="171.1" width="3" height="3" fill="#0d6b3d"/><rect x="445.83" y="170.9" width="3" height="3" fill="#0d6b3d"/><rect x="448.21" y="170.65" width="3" height="3" fill="#0d6b3d"/><rect x="450.59" y="170.34" width="3" height="3" fill="#0d6b3d"/><rect x="452.96" y="169.81" width="3" height="3" fill="#0d6b3d"/><rect x="455.34" y="169.08" width="3" height="3" fill="#0d6b3d"/><rect x="457.72" y="168.22" width="3" height="3" fill="#0d6b3d"/><rect x="460.1" y="167.03" width="3" height="3" fill="#0d6b3d"/><rect x="462.47" y="165.55" width="3" height="3" fill="#0d6b3d"/><rect x="464.85" y="163.89" width="3" height="3" fill="#0d6b3d"/><rect x="467.23" y="162.05" width="3" height="3" fill="#0d6b3d"/><rect x="469.61" y="159.87" width="3" height="3" fill="#0d6b3d"/><rect x="471.98" y="157.58" width="3" height="3" fill="#0d6b3d"/><rect x="474.36" y="155.39" width="3" height="3" fill="#0d6b3d"/><rect x="476.74" y="153.35" width="3" height="3" fill="#0d6b3d"/><rect x="479.12" y="151.26" width="3" height="3" fill="#0d6b3d"/><rect x="481.5" y="148.99" width="3" height="3" fill="#0d6b3d"/><rect x="483.87" y="146.59" width="3" height="3" fill="#0d6b3d"/><rect x="486.25" y="143.98" width="3" height="3" fill="#0d6b3d"/><rect x="488.63" y="141.02" width="3" height="3" fill="#0d6b3d"/><rect x="491" y="137.98" width="3" height="3" fill="#0d6b3d"/><rect x="493.38" y="135.16" width="3" height="3" fill="#0d6b3d"/><rect x="495.76" y="132.4" width="3" height="3" fill="#0d6b3d"/><rect x="498.14" y="129.61" width="3" height="3" fill="#0d6b3d"/><rect x="500.51" y="126.73" width="3" height="3" fill="#0d6b3d"/><rect x="502.89" y="123.62" width="3" height="3" fill="#0d6b3d"/><rect x="505.27" y="120.29" width="3" height="3" fill="#0d6b3d"/><rect x="507.65" y="116.71" width="3" height="3" fill="#0d6b3d"/><rect x="510.02" y="112.86" width="3" height="3" fill="#0d6b3d"/><rect x="512.4" y="108.66" width="3" height="3" fill="#0d6b3d"/><rect x="514.78" y="104.87" width="3" height="3" fill="#0d6b3d"/><rect x="517.16" y="100.98" width="3" height="3" fill="#0d6b3d"/><rect x="519.53" y="97.14" width="3" height="3" fill="#0d6b3d"/><rect x="521.91" y="92.72" width="3" height="3" fill="#0d6b3d"/><rect x="524.29" y="88.54" width="3" height="3" fill="#0d6b3d"/><rect x="526.67" y="84.17" width="3" height="3" fill="#0d6b3d"/><rect x="529.04" y="78.83" width="3" height="3" fill="#0d6b3d"/><rect x="531.42" y="73.77" width="3" height="3" fill="#0d6b3d"/><rect x="533.8" y="68.7" width="3" height="3" fill="#0d6b3d"/></g>
<g clip-path="url(#cb)"><path d="M345.1 172.7 L347.48 172.7 L349.86 172.7 L352.23 172.69 L354.61 172.69 L356.99 172.68 L359.37 172.67 L361.74 172.66 L364.12 172.65 L366.5 172.64 L368.88 172.62 L371.25 172.61 L373.63 172.6 L376.01 172.58 L378.38 172.56 L380.76 172.55 L383.14 172.53 L385.52 172.51 L387.89 172.49 L390.27 172.48 L392.65 172.46 L395.03 172.44 L397.41 172.41 L399.78 172.39 L402.16 172.37 L404.54 172.34 L406.92 172.31 L409.29 172.28 L411.67 172.24 L414.05 172.2 L416.43 172.16 L418.8 172.12 L421.18 172.08 L423.56 172.02 L425.94 171.95 L428.31 171.87 L430.69 171.78 L433.07 171.68 L435.44 171.56 L437.82 171.43 L440.2 171.29 L442.58 171.13 L444.95 170.95 L447.33 170.62 L449.71 170.17 L452.09 169.57 L454.46 168.76 L456.84 167.84 L459.22 166.71 L461.6 165.29 L463.97 163.47 L466.35 161.57 L468.73 159.51 L471.11 157.28 L473.48 154.97 L475.86 152.82 L478.24 150.77 L480.62 148.75 L483 146.53 L485.37 144.16 L487.75 141.59 L490.13 138.76 L492.5 135.76 L494.88 132.66 L497.26 129.39 L499.64 125.83 L502.01 122.01 L504.39 117.96 L506.77 113.73 L509.15 109.42 L511.52 105.05 L513.9 100.72 L516.28 96.54 L518.66 92.75 L521.03 88.8 L523.41 84.52 L525.79 79.71 L528.17 74.11 L530.54 68.39 L532.92 62.69 L535.3 57.1" fill="none" stroke="#6a961f" stroke-width="0.3" stroke-linejoin="round"/><circle cx="345.1" cy="172.7" r="1.55" fill="#6a961f"/><circle cx="347.48" cy="172.7" r="1.55" fill="#6a961f"/><circle cx="349.86" cy="172.7" r="1.55" fill="#6a961f"/><circle cx="352.23" cy="172.69" r="1.55" fill="#6a961f"/><circle cx="354.61" cy="172.69" r="1.55" fill="#6a961f"/><circle cx="356.99" cy="172.68" r="1.55" fill="#6a961f"/><circle cx="359.37" cy="172.67" r="1.55" fill="#6a961f"/><circle cx="361.74" cy="172.66" r="1.55" fill="#6a961f"/><circle cx="364.12" cy="172.65" r="1.55" fill="#6a961f"/><circle cx="366.5" cy="172.64" r="1.55" fill="#6a961f"/><circle cx="368.88" cy="172.62" r="1.55" fill="#6a961f"/><circle cx="371.25" cy="172.61" r="1.55" fill="#6a961f"/><circle cx="373.63" cy="172.6" r="1.55" fill="#6a961f"/><circle cx="376.01" cy="172.58" r="1.55" fill="#6a961f"/><circle cx="378.38" cy="172.56" r="1.55" fill="#6a961f"/><circle cx="380.76" cy="172.55" r="1.55" fill="#6a961f"/><circle cx="383.14" cy="172.53" r="1.55" fill="#6a961f"/><circle cx="385.52" cy="172.51" r="1.55" fill="#6a961f"/><circle cx="387.89" cy="172.49" r="1.55" fill="#6a961f"/><circle cx="390.27" cy="172.48" r="1.55" fill="#6a961f"/><circle cx="392.65" cy="172.46" r="1.55" fill="#6a961f"/><circle cx="395.03" cy="172.44" r="1.55" fill="#6a961f"/><circle cx="397.41" cy="172.41" r="1.55" fill="#6a961f"/><circle cx="399.78" cy="172.39" r="1.55" fill="#6a961f"/><circle cx="402.16" cy="172.37" r="1.55" fill="#6a961f"/><circle cx="404.54" cy="172.34" r="1.55" fill="#6a961f"/><circle cx="406.92" cy="172.31" r="1.55" fill="#6a961f"/><circle cx="409.29" cy="172.28" r="1.55" fill="#6a961f"/><circle cx="411.67" cy="172.24" r="1.55" fill="#6a961f"/><circle cx="414.05" cy="172.2" r="1.55" fill="#6a961f"/><circle cx="416.43" cy="172.16" r="1.55" fill="#6a961f"/><circle cx="418.8" cy="172.12" r="1.55" fill="#6a961f"/><circle cx="421.18" cy="172.08" r="1.55" fill="#6a961f"/><circle cx="423.56" cy="172.02" r="1.55" fill="#6a961f"/><circle cx="425.94" cy="171.95" r="1.55" fill="#6a961f"/><circle cx="428.31" cy="171.87" r="1.55" fill="#6a961f"/><circle cx="430.69" cy="171.78" r="1.55" fill="#6a961f"/><circle cx="433.07" cy="171.68" r="1.55" fill="#6a961f"/><circle cx="435.44" cy="171.56" r="1.55" fill="#6a961f"/><circle cx="437.82" cy="171.43" r="1.55" fill="#6a961f"/><circle cx="440.2" cy="171.29" r="1.55" fill="#6a961f"/><circle cx="442.58" cy="171.13" r="1.55" fill="#6a961f"/><circle cx="444.95" cy="170.95" r="1.55" fill="#6a961f"/><circle cx="447.33" cy="170.62" r="1.55" fill="#6a961f"/><circle cx="449.71" cy="170.17" r="1.55" fill="#6a961f"/><circle cx="452.09" cy="169.57" r="1.55" fill="#6a961f"/><circle cx="454.46" cy="168.76" r="1.55" fill="#6a961f"/><circle cx="456.84" cy="167.84" r="1.55" fill="#6a961f"/><circle cx="459.22" cy="166.71" r="1.55" fill="#6a961f"/><circle cx="461.6" cy="165.29" r="1.55" fill="#6a961f"/><circle cx="463.97" cy="163.47" r="1.55" fill="#6a961f"/><circle cx="466.35" cy="161.57" r="1.55" fill="#6a961f"/><circle cx="468.73" cy="159.51" r="1.55" fill="#6a961f"/><circle cx="471.11" cy="157.28" r="1.55" fill="#6a961f"/><circle cx="473.48" cy="154.97" r="1.55" fill="#6a961f"/><circle cx="475.86" cy="152.82" r="1.55" fill="#6a961f"/><circle cx="478.24" cy="150.77" r="1.55" fill="#6a961f"/><circle cx="480.62" cy="148.75" r="1.55" fill="#6a961f"/><circle cx="483" cy="146.53" r="1.55" fill="#6a961f"/><circle cx="485.37" cy="144.16" r="1.55" fill="#6a961f"/><circle cx="487.75" cy="141.59" r="1.55" fill="#6a961f"/><circle cx="490.13" cy="138.76" r="1.55" fill="#6a961f"/><circle cx="492.5" cy="135.76" r="1.55" fill="#6a961f"/><circle cx="494.88" cy="132.66" r="1.55" fill="#6a961f"/><circle cx="497.26" cy="129.39" r="1.55" fill="#6a961f"/><circle cx="499.64" cy="125.83" r="1.55" fill="#6a961f"/><circle cx="502.01" cy="122.01" r="1.55" fill="#6a961f"/><circle cx="504.39" cy="117.96" r="1.55" fill="#6a961f"/><circle cx="506.77" cy="113.73" r="1.55" fill="#6a961f"/><circle cx="509.15" cy="109.42" r="1.55" fill="#6a961f"/><circle cx="511.52" cy="105.05" r="1.55" fill="#6a961f"/><circle cx="513.9" cy="100.72" r="1.55" fill="#6a961f"/><circle cx="516.28" cy="96.54" r="1.55" fill="#6a961f"/><circle cx="518.66" cy="92.75" r="1.55" fill="#6a961f"/><circle cx="521.03" cy="88.8" r="1.55" fill="#6a961f"/><circle cx="523.41" cy="84.52" r="1.55" fill="#6a961f"/><circle cx="525.79" cy="79.71" r="1.55" fill="#6a961f"/><circle cx="528.17" cy="74.11" r="1.55" fill="#6a961f"/><circle cx="530.54" cy="68.39" r="1.55" fill="#6a961f"/><circle cx="532.92" cy="62.69" r="1.55" fill="#6a961f"/><circle cx="535.3" cy="57.1" r="1.55" fill="#6a961f"/></g>
<g clip-path="url(#cb)"><path d="M345.1 172.9 L347.48 172.9 L349.86 172.9 L352.23 172.89 L354.61 172.89 L356.99 172.88 L359.37 172.87 L361.74 172.86 L364.12 172.86 L366.5 172.85 L368.88 172.83 L371.25 172.82 L373.63 172.81 L376.01 172.8 L378.38 172.78 L380.76 172.77 L383.14 172.76 L385.52 172.74 L387.89 172.73 L390.27 172.71 L392.65 172.7 L395.03 172.68 L397.41 172.66 L399.78 172.64 L402.16 172.62 L404.54 172.6 L406.92 172.57 L409.29 172.55 L411.67 172.52 L414.05 172.49 L416.43 172.46 L418.8 172.42 L421.18 172.38 L423.56 172.33 L425.94 172.28 L428.31 172.22 L430.69 172.15 L433.07 172.07 L435.44 171.99 L437.82 171.89 L440.2 171.79 L442.58 171.68 L444.95 171.55 L447.33 171.37 L449.71 171.15 L452.09 170.82 L454.46 170.16 L456.84 169.23 L459.22 168.15 L461.6 166.68 L463.97 164.88 L466.35 162.94 L468.73 160.92 L471.11 158.68 L473.48 156.37 L475.86 154.19 L478.24 152.19 L480.62 150.15 L483 147.92 L485.37 145.56 L487.75 143 L490.13 140.16 L492.5 137.15 L494.88 134.07 L497.26 130.8 L499.64 127.23 L502.01 123.41 L504.39 119.35 L506.77 115.07 L509.15 110.52 L511.52 105.86 L513.9 101.2 L516.28 96.44 L518.66 91.48 L521.03 86.17 L523.41 80.77 L525.79 75.27 L528.17 69.28 L530.54 63.03 L532.92 57.19 L535.3 51.3" fill="none" stroke="#f8b416" stroke-width="0.3" stroke-linejoin="round"/><path d="M345.1 170.5 L347.1 174.5 L343.1 174.5Z" fill="#f8b416"/><path d="M347.48 170.5 L349.48 174.5 L345.48 174.5Z" fill="#f8b416"/><path d="M349.86 170.5 L351.86 174.5 L347.86 174.5Z" fill="#f8b416"/><path d="M352.23 170.49 L354.23 174.49 L350.23 174.49Z" fill="#f8b416"/><path d="M354.61 170.49 L356.61 174.49 L352.61 174.49Z" fill="#f8b416"/><path d="M356.99 170.48 L358.99 174.48 L354.99 174.48Z" fill="#f8b416"/><path d="M359.37 170.47 L361.37 174.47 L357.37 174.47Z" fill="#f8b416"/><path d="M361.74 170.46 L363.74 174.46 L359.74 174.46Z" fill="#f8b416"/><path d="M364.12 170.46 L366.12 174.46 L362.12 174.46Z" fill="#f8b416"/><path d="M366.5 170.45 L368.5 174.45 L364.5 174.45Z" fill="#f8b416"/><path d="M368.88 170.43 L370.88 174.43 L366.88 174.43Z" fill="#f8b416"/><path d="M371.25 170.42 L373.25 174.42 L369.25 174.42Z" fill="#f8b416"/><path d="M373.63 170.41 L375.63 174.41 L371.63 174.41Z" fill="#f8b416"/><path d="M376.01 170.4 L378.01 174.4 L374.01 174.4Z" fill="#f8b416"/><path d="M378.38 170.38 L380.38 174.38 L376.38 174.38Z" fill="#f8b416"/><path d="M380.76 170.37 L382.76 174.37 L378.76 174.37Z" fill="#f8b416"/><path d="M383.14 170.36 L385.14 174.36 L381.14 174.36Z" fill="#f8b416"/><path d="M385.52 170.34 L387.52 174.34 L383.52 174.34Z" fill="#f8b416"/><path d="M387.89 170.33 L389.89 174.33 L385.89 174.33Z" fill="#f8b416"/><path d="M390.27 170.31 L392.27 174.31 L388.27 174.31Z" fill="#f8b416"/><path d="M392.65 170.3 L394.65 174.3 L390.65 174.3Z" fill="#f8b416"/><path d="M395.03 170.28 L397.03 174.28 L393.03 174.28Z" fill="#f8b416"/><path d="M397.41 170.26 L399.41 174.26 L395.41 174.26Z" fill="#f8b416"/><path d="M399.78 170.24 L401.78 174.24 L397.78 174.24Z" fill="#f8b416"/><path d="M402.16 170.22 L404.16 174.22 L400.16 174.22Z" fill="#f8b416"/><path d="M404.54 170.2 L406.54 174.2 L402.54 174.2Z" fill="#f8b416"/><path d="M406.92 170.17 L408.92 174.17 L404.92 174.17Z" fill="#f8b416"/><path d="M409.29 170.15 L411.29 174.15 L407.29 174.15Z" fill="#f8b416"/><path d="M411.67 170.12 L413.67 174.12 L409.67 174.12Z" fill="#f8b416"/><path d="M414.05 170.09 L416.05 174.09 L412.05 174.09Z" fill="#f8b416"/><path d="M416.43 170.06 L418.43 174.06 L414.43 174.06Z" fill="#f8b416"/><path d="M418.8 170.02 L420.8 174.02 L416.8 174.02Z" fill="#f8b416"/><path d="M421.18 169.98 L423.18 173.98 L419.18 173.98Z" fill="#f8b416"/><path d="M423.56 169.93 L425.56 173.93 L421.56 173.93Z" fill="#f8b416"/><path d="M425.94 169.88 L427.94 173.88 L423.94 173.88Z" fill="#f8b416"/><path d="M428.31 169.82 L430.31 173.82 L426.31 173.82Z" fill="#f8b416"/><path d="M430.69 169.75 L432.69 173.75 L428.69 173.75Z" fill="#f8b416"/><path d="M433.07 169.67 L435.07 173.67 L431.07 173.67Z" fill="#f8b416"/><path d="M435.44 169.59 L437.44 173.59 L433.44 173.59Z" fill="#f8b416"/><path d="M437.82 169.49 L439.82 173.49 L435.82 173.49Z" fill="#f8b416"/><path d="M440.2 169.39 L442.2 173.39 L438.2 173.39Z" fill="#f8b416"/><path d="M442.58 169.28 L444.58 173.28 L440.58 173.28Z" fill="#f8b416"/><path d="M444.95 169.15 L446.95 173.15 L442.95 173.15Z" fill="#f8b416"/><path d="M447.33 168.97 L449.33 172.97 L445.33 172.97Z" fill="#f8b416"/><path d="M449.71 168.75 L451.71 172.75 L447.71 172.75Z" fill="#f8b416"/><path d="M452.09 168.42 L454.09 172.42 L450.09 172.42Z" fill="#f8b416"/><path d="M454.46 167.76 L456.46 171.76 L452.46 171.76Z" fill="#f8b416"/><path d="M456.84 166.83 L458.84 170.83 L454.84 170.83Z" fill="#f8b416"/><path d="M459.22 165.75 L461.22 169.75 L457.22 169.75Z" fill="#f8b416"/><path d="M461.6 164.28 L463.6 168.28 L459.6 168.28Z" fill="#f8b416"/><path d="M463.97 162.48 L465.97 166.48 L461.97 166.48Z" fill="#f8b416"/><path d="M466.35 160.54 L468.35 164.54 L464.35 164.54Z" fill="#f8b416"/><path d="M468.73 158.52 L470.73 162.52 L466.73 162.52Z" fill="#f8b416"/><path d="M471.11 156.28 L473.11 160.28 L469.11 160.28Z" fill="#f8b416"/><path d="M473.48 153.97 L475.48 157.97 L471.48 157.97Z" fill="#f8b416"/><path d="M475.86 151.79 L477.86 155.79 L473.86 155.79Z" fill="#f8b416"/><path d="M478.24 149.79 L480.24 153.79 L476.24 153.79Z" fill="#f8b416"/><path d="M480.62 147.75 L482.62 151.75 L478.62 151.75Z" fill="#f8b416"/><path d="M483 145.52 L485 149.52 L481 149.52Z" fill="#f8b416"/><path d="M485.37 143.16 L487.37 147.16 L483.37 147.16Z" fill="#f8b416"/><path d="M487.75 140.6 L489.75 144.6 L485.75 144.6Z" fill="#f8b416"/><path d="M490.13 137.76 L492.13 141.76 L488.13 141.76Z" fill="#f8b416"/><path d="M492.5 134.75 L494.5 138.75 L490.5 138.75Z" fill="#f8b416"/><path d="M494.88 131.67 L496.88 135.67 L492.88 135.67Z" fill="#f8b416"/><path d="M497.26 128.4 L499.26 132.4 L495.26 132.4Z" fill="#f8b416"/><path d="M499.64 124.83 L501.64 128.83 L497.64 128.83Z" fill="#f8b416"/><path d="M502.01 121.01 L504.01 125.01 L500.01 125.01Z" fill="#f8b416"/><path d="M504.39 116.95 L506.39 120.95 L502.39 120.95Z" fill="#f8b416"/><path d="M506.77 112.67 L508.77 116.67 L504.77 116.67Z" fill="#f8b416"/><path d="M509.15 108.12 L511.15 112.12 L507.15 112.12Z" fill="#f8b416"/><path d="M511.52 103.46 L513.52 107.46 L509.52 107.46Z" fill="#f8b416"/><path d="M513.9 98.8 L515.9 102.8 L511.9 102.8Z" fill="#f8b416"/><path d="M516.28 94.04 L518.28 98.04 L514.28 98.04Z" fill="#f8b416"/><path d="M518.66 89.08 L520.66 93.08 L516.66 93.08Z" fill="#f8b416"/><path d="M521.03 83.77 L523.03 87.77 L519.03 87.77Z" fill="#f8b416"/><path d="M523.41 78.37 L525.41 82.37 L521.41 82.37Z" fill="#f8b416"/><path d="M525.79 72.87 L527.79 76.87 L523.79 76.87Z" fill="#f8b416"/><path d="M528.17 66.88 L530.17 70.88 L526.17 70.88Z" fill="#f8b416"/><path d="M530.54 60.63 L532.54 64.63 L528.54 64.63Z" fill="#f8b416"/><path d="M532.92 54.79 L534.92 58.79 L530.92 58.79Z" fill="#f8b416"/><path d="M535.3 48.9 L537.3 52.9 L533.3 52.9Z" fill="#f8b416"/></g>
<g clip-path="url(#cb)"><path d="M345.1 173 L347.48 173 L349.86 173 L352.23 172.99 L354.61 172.99 L356.99 172.98 L359.37 172.97 L361.74 172.96 L364.12 172.95 L366.5 172.93 L368.88 172.92 L371.25 172.9 L373.63 172.88 L376.01 172.86 L378.38 172.84 L380.76 172.82 L383.14 172.8 L385.52 172.77 L387.89 172.75 L390.27 172.72 L392.65 172.69 L395.03 172.64 L397.41 172.58 L399.78 172.49 L402.16 172.4 L404.54 172.31 L406.92 172.21 L409.29 172.12 L411.67 172.05 L414.05 171.98 L416.43 171.91 L418.8 171.83 L421.18 171.75 L423.56 171.66 L425.94 171.56 L428.31 171.44 L430.69 171.31 L433.07 171.16 L435.44 170.98 L437.82 170.75 L440.2 170.47 L442.58 169.96 L444.95 169.23 L447.33 168.47 L449.71 167.62 L452.09 166.68 L454.46 165.63 L456.84 164.38 L459.22 162.85 L461.6 161.17 L463.97 159.39 L466.35 157.42 L468.73 155.22 L471.11 152.9 L473.48 150.51 L475.86 148 L478.24 145.33 L480.62 142.52 L483 139.61 L485.37 136.46 L487.75 132.86 L490.13 129.14 L492.5 125.49 L494.88 121.74 L497.26 117.82 L499.64 113.76 L502.01 109.64 L504.39 105.21 L506.77 100.11 L509.15 95.04 L511.52 89.93 L513.9 84.77 L516.28 79.41 L518.66 73.65 L521.03 67.71 L523.41 61.7 L525.79 55.59 L528.17 49.36 L530.54 42.95 L532.92 35.45 L535.3 28" fill="none" stroke="#f8584a" stroke-width="0.3" stroke-linejoin="round"/><path d="M345.1 175.4 L347.1 171.4 L343.1 171.4Z" fill="#f8584a"/><path d="M347.48 175.4 L349.48 171.4 L345.48 171.4Z" fill="#f8584a"/><path d="M349.86 175.4 L351.86 171.4 L347.86 171.4Z" fill="#f8584a"/><path d="M352.23 175.39 L354.23 171.39 L350.23 171.39Z" fill="#f8584a"/><path d="M354.61 175.39 L356.61 171.39 L352.61 171.39Z" fill="#f8584a"/><path d="M356.99 175.38 L358.99 171.38 L354.99 171.38Z" fill="#f8584a"/><path d="M359.37 175.37 L361.37 171.37 L357.37 171.37Z" fill="#f8584a"/><path d="M361.74 175.36 L363.74 171.36 L359.74 171.36Z" fill="#f8584a"/><path d="M364.12 175.35 L366.12 171.35 L362.12 171.35Z" fill="#f8584a"/><path d="M366.5 175.33 L368.5 171.33 L364.5 171.33Z" fill="#f8584a"/><path d="M368.88 175.32 L370.88 171.32 L366.88 171.32Z" fill="#f8584a"/><path d="M371.25 175.3 L373.25 171.3 L369.25 171.3Z" fill="#f8584a"/><path d="M373.63 175.28 L375.63 171.28 L371.63 171.28Z" fill="#f8584a"/><path d="M376.01 175.26 L378.01 171.26 L374.01 171.26Z" fill="#f8584a"/><path d="M378.38 175.24 L380.38 171.24 L376.38 171.24Z" fill="#f8584a"/><path d="M380.76 175.22 L382.76 171.22 L378.76 171.22Z" fill="#f8584a"/><path d="M383.14 175.2 L385.14 171.2 L381.14 171.2Z" fill="#f8584a"/><path d="M385.52 175.17 L387.52 171.17 L383.52 171.17Z" fill="#f8584a"/><path d="M387.89 175.15 L389.89 171.15 L385.89 171.15Z" fill="#f8584a"/><path d="M390.27 175.12 L392.27 171.12 L388.27 171.12Z" fill="#f8584a"/><path d="M392.65 175.09 L394.65 171.09 L390.65 171.09Z" fill="#f8584a"/><path d="M395.03 175.04 L397.03 171.04 L393.03 171.04Z" fill="#f8584a"/><path d="M397.41 174.98 L399.41 170.98 L395.41 170.98Z" fill="#f8584a"/><path d="M399.78 174.89 L401.78 170.89 L397.78 170.89Z" fill="#f8584a"/><path d="M402.16 174.8 L404.16 170.8 L400.16 170.8Z" fill="#f8584a"/><path d="M404.54 174.71 L406.54 170.71 L402.54 170.71Z" fill="#f8584a"/><path d="M406.92 174.61 L408.92 170.61 L404.92 170.61Z" fill="#f8584a"/><path d="M409.29 174.52 L411.29 170.52 L407.29 170.52Z" fill="#f8584a"/><path d="M411.67 174.45 L413.67 170.45 L409.67 170.45Z" fill="#f8584a"/><path d="M414.05 174.38 L416.05 170.38 L412.05 170.38Z" fill="#f8584a"/><path d="M416.43 174.31 L418.43 170.31 L414.43 170.31Z" fill="#f8584a"/><path d="M418.8 174.23 L420.8 170.23 L416.8 170.23Z" fill="#f8584a"/><path d="M421.18 174.15 L423.18 170.15 L419.18 170.15Z" fill="#f8584a"/><path d="M423.56 174.06 L425.56 170.06 L421.56 170.06Z" fill="#f8584a"/><path d="M425.94 173.96 L427.94 169.96 L423.94 169.96Z" fill="#f8584a"/><path d="M428.31 173.84 L430.31 169.84 L426.31 169.84Z" fill="#f8584a"/><path d="M430.69 173.71 L432.69 169.71 L428.69 169.71Z" fill="#f8584a"/><path d="M433.07 173.56 L435.07 169.56 L431.07 169.56Z" fill="#f8584a"/><path d="M435.44 173.38 L437.44 169.38 L433.44 169.38Z" fill="#f8584a"/><path d="M437.82 173.15 L439.82 169.15 L435.82 169.15Z" fill="#f8584a"/><path d="M440.2 172.87 L442.2 168.87 L438.2 168.87Z" fill="#f8584a"/><path d="M442.58 172.36 L444.58 168.36 L440.58 168.36Z" fill="#f8584a"/><path d="M444.95 171.63 L446.95 167.63 L442.95 167.63Z" fill="#f8584a"/><path d="M447.33 170.87 L449.33 166.87 L445.33 166.87Z" fill="#f8584a"/><path d="M449.71 170.02 L451.71 166.02 L447.71 166.02Z" fill="#f8584a"/><path d="M452.09 169.08 L454.09 165.08 L450.09 165.08Z" fill="#f8584a"/><path d="M454.46 168.03 L456.46 164.03 L452.46 164.03Z" fill="#f8584a"/><path d="M456.84 166.78 L458.84 162.78 L454.84 162.78Z" fill="#f8584a"/><path d="M459.22 165.25 L461.22 161.25 L457.22 161.25Z" fill="#f8584a"/><path d="M461.6 163.57 L463.6 159.57 L459.6 159.57Z" fill="#f8584a"/><path d="M463.97 161.79 L465.97 157.79 L461.97 157.79Z" fill="#f8584a"/><path d="M466.35 159.82 L468.35 155.82 L464.35 155.82Z" fill="#f8584a"/><path d="M468.73 157.62 L470.73 153.62 L466.73 153.62Z" fill="#f8584a"/><path d="M471.11 155.3 L473.11 151.3 L469.11 151.3Z" fill="#f8584a"/><path d="M473.48 152.91 L475.48 148.91 L471.48 148.91Z" fill="#f8584a"/><path d="M475.86 150.4 L477.86 146.4 L473.86 146.4Z" fill="#f8584a"/><path d="M478.24 147.73 L480.24 143.73 L476.24 143.73Z" fill="#f8584a"/><path d="M480.62 144.92 L482.62 140.92 L478.62 140.92Z" fill="#f8584a"/><path d="M483 142.01 L485 138.01 L481 138.01Z" fill="#f8584a"/><path d="M485.37 138.86 L487.37 134.86 L483.37 134.86Z" fill="#f8584a"/><path d="M487.75 135.26 L489.75 131.26 L485.75 131.26Z" fill="#f8584a"/><path d="M490.13 131.54 L492.13 127.54 L488.13 127.54Z" fill="#f8584a"/><path d="M492.5 127.89 L494.5 123.89 L490.5 123.89Z" fill="#f8584a"/><path d="M494.88 124.14 L496.88 120.14 L492.88 120.14Z" fill="#f8584a"/><path d="M497.26 120.22 L499.26 116.22 L495.26 116.22Z" fill="#f8584a"/><path d="M499.64 116.16 L501.64 112.16 L497.64 112.16Z" fill="#f8584a"/><path d="M502.01 112.04 L504.01 108.04 L500.01 108.04Z" fill="#f8584a"/><path d="M504.39 107.61 L506.39 103.61 L502.39 103.61Z" fill="#f8584a"/><path d="M506.77 102.51 L508.77 98.51 L504.77 98.51Z" fill="#f8584a"/><path d="M509.15 97.44 L511.15 93.44 L507.15 93.44Z" fill="#f8584a"/><path d="M511.52 92.33 L513.52 88.33 L509.52 88.33Z" fill="#f8584a"/><path d="M513.9 87.17 L515.9 83.17 L511.9 83.17Z" fill="#f8584a"/><path d="M516.28 81.81 L518.28 77.81 L514.28 77.81Z" fill="#f8584a"/><path d="M518.66 76.05 L520.66 72.05 L516.66 72.05Z" fill="#f8584a"/><path d="M521.03 70.11 L523.03 66.11 L519.03 66.11Z" fill="#f8584a"/><path d="M523.41 64.1 L525.41 60.1 L521.41 60.1Z" fill="#f8584a"/><path d="M525.79 57.99 L527.79 53.99 L523.79 53.99Z" fill="#f8584a"/><path d="M528.17 51.76 L530.17 47.76 L526.17 47.76Z" fill="#f8584a"/><path d="M530.54 45.35 L532.54 41.35 L528.54 41.35Z" fill="#f8584a"/><path d="M532.92 37.85 L534.92 33.85 L530.92 33.85Z" fill="#f8584a"/><path d="M535.3 30.4 L537.3 26.4 L533.3 26.4Z" fill="#f8584a"/></g>
<path d="M345.1 173.7v2.8M392.65 173.7v2.8M440.2 173.7v2.8M487.75 173.7v2.8M535.3 173.7v2.8" stroke="#111" stroke-width="1.1" fill="none"/>
<path d="M368.87 173.7v1.5M416.42 173.7v1.5M463.97 173.7v1.5M511.52 173.7v1.5" stroke="#111" stroke-width="1.1" fill="none"/>
<path d="M345.1 173.7h-3M345.1 135.32h-3M345.1 96.95h-3M345.1 58.57h-3M345.1 20.2h-3" stroke="#111" stroke-width="1.1" fill="none"/>
<path d="M345.1 154.51h-1.7M345.1 116.14h-1.7M345.1 77.76h-1.7M345.1 39.39h-1.7" stroke="#111" stroke-width="1.1" fill="none"/>
<path d="M535.3 154.51h-1.7M535.3 116.14h-1.7M535.3 77.76h-1.7M535.3 39.39h-1.7" stroke="#111" stroke-width="1.1" fill="none"/>
<text x="345.1" y="185.8" font-family="'Liberation Sans', Arial, sans-serif" font-size="9.2" font-weight="bold" text-anchor="middle" fill="#111" stroke="#111" stroke-width="0.28">2.2</text>
<text x="339.8" y="176.5" font-family="'Liberation Sans', Arial, sans-serif" font-size="9.2" font-weight="bold" text-anchor="end" fill="#111" stroke="#111" stroke-width="0.28">0</text>
<text x="392.65" y="185.8" font-family="'Liberation Sans', Arial, sans-serif" font-size="9.2" font-weight="bold" text-anchor="middle" fill="#111" stroke="#111" stroke-width="0.28">2.4</text>
<text x="339.8" y="138.12" font-family="'Liberation Sans', Arial, sans-serif" font-size="9.2" font-weight="bold" text-anchor="end" fill="#111" stroke="#111" stroke-width="0.28">20</text>
<text x="440.2" y="185.8" font-family="'Liberation Sans', Arial, sans-serif" font-size="9.2" font-weight="bold" text-anchor="middle" fill="#111" stroke="#111" stroke-width="0.28">2.6</text>
<text x="339.8" y="99.75" font-family="'Liberation Sans', Arial, sans-serif" font-size="9.2" font-weight="bold" text-anchor="end" fill="#111" stroke="#111" stroke-width="0.28">40</text>
<text x="487.75" y="185.8" font-family="'Liberation Sans', Arial, sans-serif" font-size="9.2" font-weight="bold" text-anchor="middle" fill="#111" stroke="#111" stroke-width="0.28">2.8</text>
<text x="339.8" y="61.37" font-family="'Liberation Sans', Arial, sans-serif" font-size="9.2" font-weight="bold" text-anchor="end" fill="#111" stroke="#111" stroke-width="0.28">60</text>
<text x="535.3" y="185.8" font-family="'Liberation Sans', Arial, sans-serif" font-size="9.2" font-weight="bold" text-anchor="middle" fill="#111" stroke="#111" stroke-width="0.28">3.0</text>
<text x="339.8" y="23" font-family="'Liberation Sans', Arial, sans-serif" font-size="9.2" font-weight="bold" text-anchor="end" fill="#111" stroke="#111" stroke-width="0.28">80</text>
<text x="440.2" y="202" font-family="'Liberation Sans', Arial, sans-serif" font-size="10.4" font-weight="bold" text-anchor="middle" fill="#111" stroke="#111" stroke-width="0.28">Voltage (V)</text>
<text x="327.2" y="98" font-family="'Liberation Sans', Arial, sans-serif" font-size="10.4" font-weight="bold" text-anchor="middle" fill="#111" stroke="#111" stroke-width="0.28" transform="rotate(-90 327.2 98)">Current Density (A/cm<tspan font-size="7.07" dy="-5.8">2</tspan><tspan dy="5.8" dx="-2.2">)</tspan></text>
<path d="M368.7 44.5 H389.6" stroke="#0d6b3d" stroke-width="1.4"/>
<rect x="377.6" y="43" width="3" height="3" fill="#0d6b3d"/>
<text x="391.6" y="47.46" font-family="'Liberation Sans', Arial, sans-serif" font-size="8.5" font-weight="bold" fill="#111" stroke="#111" stroke-width="0.2">100 <tspan font-family="'Liberation Serif', serif" font-weight="normal" font-size="9.18" stroke="none">μ</tspan>m</text>
<path d="M368.7 56.2 H389.6" stroke="#6a961f" stroke-width="1.4"/>
<circle cx="379.1" cy="56.2" r="1.5" fill="#6a961f"/>
<text x="391.6" y="59.16" font-family="'Liberation Sans', Arial, sans-serif" font-size="8.5" font-weight="bold" fill="#111" stroke="#111" stroke-width="0.2">50 <tspan font-family="'Liberation Serif', serif" font-weight="normal" font-size="9.18" stroke="none">μ</tspan>m</text>
<path d="M368.7 68 H389.6" stroke="#f8b416" stroke-width="1.4"/>
<path d="M379.1 65.66 L381.05 69.56 L377.15 69.56Z" fill="#f8b416"/>
<text x="391.6" y="70.96" font-family="'Liberation Sans', Arial, sans-serif" font-size="8.5" font-weight="bold" fill="#111" stroke="#111" stroke-width="0.2">25 <tspan font-family="'Liberation Serif', serif" font-weight="normal" font-size="9.18" stroke="none">μ</tspan>m</text>
<path d="M368.7 79.9 H389.6" stroke="#f8584a" stroke-width="1.4"/>
<path d="M379.1 82.24 L381.05 78.34 L377.15 78.34Z" fill="#f8584a"/>
<text x="391.6" y="82.86" font-family="'Liberation Sans', Arial, sans-serif" font-size="8.5" font-weight="bold" fill="#111" stroke="#111" stroke-width="0.2">10 <tspan font-family="'Liberation Serif', serif" font-weight="normal" font-size="9.18" stroke="none">μ</tspan>m</text>
<text x="426.4" y="230" font-family="'Liberation Serif', serif" font-size="13" text-anchor="middle" fill="#111" stroke="#111" stroke-width="0.25">(<tspan font-weight="bold">b</tspan>)</text>
<rect x="67.05" y="251.6" width="193.95" height="156.4" fill="none" stroke="#111" stroke-width="1.3"/>
<g clip-path="url(#cc)"><path d="M67.05 380.94 L86.44 359.83 L105.84 340.62 L125.23 324.01 L144.63 309.47 L164.02 296.96 L183.42 286.01 L202.81 275.69 L222.21 266.93 L241.61 259.11 L261 251.6" fill="none" stroke="#0d6b3d" stroke-width="1.2" stroke-linejoin="round"/><rect x="65.4" y="379.29" width="3.3" height="3.3" fill="#0d6b3d"/><rect x="84.79" y="358.18" width="3.3" height="3.3" fill="#0d6b3d"/><rect x="104.19" y="338.97" width="3.3" height="3.3" fill="#0d6b3d"/><rect x="123.58" y="322.36" width="3.3" height="3.3" fill="#0d6b3d"/><rect x="142.98" y="307.82" width="3.3" height="3.3" fill="#0d6b3d"/><rect x="162.37" y="295.31" width="3.3" height="3.3" fill="#0d6b3d"/><rect x="181.77" y="284.36" width="3.3" height="3.3" fill="#0d6b3d"/><rect x="201.16" y="274.04" width="3.3" height="3.3" fill="#0d6b3d"/><rect x="220.56" y="265.28" width="3.3" height="3.3" fill="#0d6b3d"/><rect x="239.96" y="257.46" width="3.3" height="3.3" fill="#0d6b3d"/><rect x="259.35" y="249.95" width="3.3" height="3.3" fill="#0d6b3d"/></g>
<g clip-path="url(#cc)"><path d="M67.05 350.44 L86.44 332.93 L105.84 318.23 L125.23 305.9 L144.63 295.39 L164.02 285.54 L183.42 277.44 L202.81 269.93 L222.21 263.36 L241.61 257.48 L261 251.6" fill="none" stroke="#6a961f" stroke-width="1.2" stroke-linejoin="round"/><circle cx="67.05" cy="350.44" r="1.75" fill="#6a961f"/><circle cx="86.44" cy="332.93" r="1.75" fill="#6a961f"/><circle cx="105.84" cy="318.23" r="1.75" fill="#6a961f"/><circle cx="125.23" cy="305.9" r="1.75" fill="#6a961f"/><circle cx="144.63" cy="295.39" r="1.75" fill="#6a961f"/><circle cx="164.02" cy="285.54" r="1.75" fill="#6a961f"/><circle cx="183.42" cy="277.44" r="1.75" fill="#6a961f"/><circle cx="202.81" cy="269.93" r="1.75" fill="#6a961f"/><circle cx="222.21" cy="263.36" r="1.75" fill="#6a961f"/><circle cx="241.61" cy="257.48" r="1.75" fill="#6a961f"/><circle cx="261" cy="251.6" r="1.75" fill="#6a961f"/></g>
<g clip-path="url(#cc)"><path d="M67.05 337.62 L86.44 323.11 L105.84 310.63 L125.23 300.08 L144.63 290.7 L164.02 282.57 L183.42 275.53 L202.81 268.49 L222.21 262.64 L241.61 256.79 L261 251.6" fill="none" stroke="#f9c91c" stroke-width="1.2" stroke-linejoin="round"/><path d="M67.05 335.22 L69.05 339.22 L65.05 339.22Z" fill="#f9c91c"/><path d="M86.44 320.71 L88.44 324.71 L84.44 324.71Z" fill="#f9c91c"/><path d="M105.84 308.23 L107.84 312.23 L103.84 312.23Z" fill="#f9c91c"/><path d="M125.23 297.68 L127.23 301.68 L123.23 301.68Z" fill="#f9c91c"/><path d="M144.63 288.3 L146.63 292.3 L142.63 292.3Z" fill="#f9c91c"/><path d="M164.02 280.17 L166.02 284.17 L162.02 284.17Z" fill="#f9c91c"/><path d="M183.42 273.13 L185.42 277.13 L181.42 277.13Z" fill="#f9c91c"/><path d="M202.81 266.09 L204.81 270.09 L200.81 270.09Z" fill="#f9c91c"/><path d="M222.21 260.24 L224.21 264.24 L220.21 264.24Z" fill="#f9c91c"/><path d="M241.61 254.39 L243.61 258.39 L239.61 258.39Z" fill="#f9c91c"/><path d="M261 249.2 L263 253.2 L259 253.2Z" fill="#f9c91c"/></g>
<g clip-path="url(#cc)"><path d="M67.05 314.16 L86.44 306.65 L105.84 297.77 L125.23 290.23 L144.63 282.88 L164.02 277.44 L183.42 270.87 L202.81 265.21 L222.21 260.51 L241.61 255.82 L261 251.6" fill="none" stroke="#f8584a" stroke-width="1.2" stroke-linejoin="round"/><path d="M67.05 316.56 L69.05 312.56 L65.05 312.56Z" fill="#f8584a"/><path d="M86.44 309.05 L88.44 305.05 L84.44 305.05Z" fill="#f8584a"/><path d="M105.84 300.17 L107.84 296.17 L103.84 296.17Z" fill="#f8584a"/><path d="M125.23 292.63 L127.23 288.63 L123.23 288.63Z" fill="#f8584a"/><path d="M144.63 285.28 L146.63 281.28 L142.63 281.28Z" fill="#f8584a"/><path d="M164.02 279.84 L166.02 275.84 L162.02 275.84Z" fill="#f8584a"/><path d="M183.42 273.27 L185.42 269.27 L181.42 269.27Z" fill="#f8584a"/><path d="M202.81 267.61 L204.81 263.61 L200.81 263.61Z" fill="#f8584a"/><path d="M222.21 262.91 L224.21 258.91 L220.21 258.91Z" fill="#f8584a"/><path d="M241.61 258.22 L243.61 254.22 L239.61 254.22Z" fill="#f8584a"/><path d="M261 254 L263 250 L259 250Z" fill="#f8584a"/></g>
<path d="M67.05 408v2.8M105.84 408v2.8M144.63 408v2.8M183.42 408v2.8M222.21 408v2.8M261 408v2.8" stroke="#111" stroke-width="1.1" fill="none"/>
<path d="M86.44 408v1.5M125.23 408v1.5M164.02 408v1.5M202.81 408v1.5M241.61 408v1.5" stroke="#111" stroke-width="1.1" fill="none"/>
<path d="M67.05 251.6h-3M67.05 282.88h-3M67.05 314.16h-3M67.05 345.44h-3M67.05 376.72h-3M67.05 408h-3" stroke="#111" stroke-width="1.1" fill="none"/>
<path d="M67.05 267.24h-1.7M67.05 298.52h-1.7M67.05 329.8h-1.7M67.05 361.08h-1.7M67.05 392.36h-1.7" stroke="#111" stroke-width="1.1" fill="none"/>
<text x="66.25" y="420.2" font-family="'Liberation Sans', Arial, sans-serif" font-size="9.2" font-weight="bold" text-anchor="middle" fill="#111" stroke="#111" stroke-width="0.28">-5</text>
<text x="61.2" y="254.4" font-family="'Liberation Sans', Arial, sans-serif" font-size="9.2" font-weight="bold" text-anchor="end" fill="#111" stroke="#111" stroke-width="0.28">0</text>
<text x="105.04" y="420.2" font-family="'Liberation Sans', Arial, sans-serif" font-size="9.2" font-weight="bold" text-anchor="middle" fill="#111" stroke="#111" stroke-width="0.28">-4</text>
<text x="61.5" y="285.68" font-family="'Liberation Sans', Arial, sans-serif" font-size="9.2" font-weight="bold" text-anchor="end" fill="#111" stroke="#111" stroke-width="0.28">-1x10<tspan font-size="5.34" dy="-4.0">-7</tspan></text>
<text x="143.83" y="420.2" font-family="'Liberation Sans', Arial, sans-serif" font-size="9.2" font-weight="bold" text-anchor="middle" fill="#111" stroke="#111" stroke-width="0.28">-3</text>
<text x="61.5" y="316.96" font-family="'Liberation Sans', Arial, sans-serif" font-size="9.2" font-weight="bold" text-anchor="end" fill="#111" stroke="#111" stroke-width="0.28">-2x10<tspan font-size="5.34" dy="-4.0">-7</tspan></text>
<text x="182.62" y="420.2" font-family="'Liberation Sans', Arial, sans-serif" font-size="9.2" font-weight="bold" text-anchor="middle" fill="#111" stroke="#111" stroke-width="0.28">-2</text>
<text x="61.5" y="348.24" font-family="'Liberation Sans', Arial, sans-serif" font-size="9.2" font-weight="bold" text-anchor="end" fill="#111" stroke="#111" stroke-width="0.28">-3x10<tspan font-size="5.34" dy="-4.0">-7</tspan></text>
<text x="221.41" y="420.2" font-family="'Liberation Sans', Arial, sans-serif" font-size="9.2" font-weight="bold" text-anchor="middle" fill="#111" stroke="#111" stroke-width="0.28">-1</text>
<text x="61.5" y="379.52" font-family="'Liberation Sans', Arial, sans-serif" font-size="9.2" font-weight="bold" text-anchor="end" fill="#111" stroke="#111" stroke-width="0.28">-4x10<tspan font-size="5.34" dy="-4.0">-7</tspan></text>
<text x="261" y="420.2" font-family="'Liberation Sans', Arial, sans-serif" font-size="9.2" font-weight="bold" text-anchor="middle" fill="#111" stroke="#111" stroke-width="0.28">0</text>
<text x="61.5" y="410.8" font-family="'Liberation Sans', Arial, sans-serif" font-size="9.2" font-weight="bold" text-anchor="end" fill="#111" stroke="#111" stroke-width="0.28">-5x10<tspan font-size="5.34" dy="-4.0">-7</tspan></text>
<text x="164" y="436.6" font-family="'Liberation Sans', Arial, sans-serif" font-size="10.4" font-weight="bold" text-anchor="middle" fill="#111" stroke="#111" stroke-width="0.28">Reverse Voltage (V)</text>
<text x="30.2" y="330" font-family="'Liberation Sans', Arial, sans-serif" font-size="10.4" font-weight="bold" text-anchor="middle" fill="#111" stroke="#111" stroke-width="0.28" transform="rotate(-90 30.2 330)">Reverse Current (A)</text>
<path d="M190.3 327.4 H211.3" stroke="#0d6b3d" stroke-width="1.4"/>
<rect x="199.6" y="325.7" width="3.4" height="3.4" fill="#0d6b3d"/>
<text x="214.2" y="329.9" font-family="'Liberation Sans', Arial, sans-serif" font-size="8.6" font-weight="bold" fill="#111" stroke="#111" stroke-width="0.2">100 <tspan font-family="'Liberation Serif', serif" font-weight="normal" font-size="9.29" stroke="none">μ</tspan>m</text>
<path d="M190.3 339.2 H211.3" stroke="#6a961f" stroke-width="1.4"/>
<circle cx="201.3" cy="339.2" r="1.7" fill="#6a961f"/>
<text x="214.2" y="341.7" font-family="'Liberation Sans', Arial, sans-serif" font-size="8.6" font-weight="bold" fill="#111" stroke="#111" stroke-width="0.2">50 <tspan font-family="'Liberation Serif', serif" font-weight="normal" font-size="9.29" stroke="none">μ</tspan>m</text>
<path d="M190.3 351.2 H211.3" stroke="#f9c91c" stroke-width="1.4"/>
<path d="M201.3 348.55 L203.51 352.97 L199.09 352.97Z" fill="#f9c91c"/>
<text x="214.2" y="353.7" font-family="'Liberation Sans', Arial, sans-serif" font-size="8.6" font-weight="bold" fill="#111" stroke="#111" stroke-width="0.2">25 <tspan font-family="'Liberation Serif', serif" font-weight="normal" font-size="9.29" stroke="none">μ</tspan>m</text>
<path d="M190.3 363.2 H211.3" stroke="#f8584a" stroke-width="1.4"/>
<path d="M201.3 365.85 L203.51 361.43 L199.09 361.43Z" fill="#f8584a"/>
<text x="214.2" y="365.7" font-family="'Liberation Sans', Arial, sans-serif" font-size="8.6" font-weight="bold" fill="#111" stroke="#111" stroke-width="0.2">10 <tspan font-family="'Liberation Serif', serif" font-weight="normal" font-size="9.29" stroke="none">μ</tspan>m</text>
<text x="145.2" y="464.8" font-family="'Liberation Serif', serif" font-size="13" text-anchor="middle" fill="#111" stroke="#111" stroke-width="0.25">(c)</text>
</svg>
</body></html>
